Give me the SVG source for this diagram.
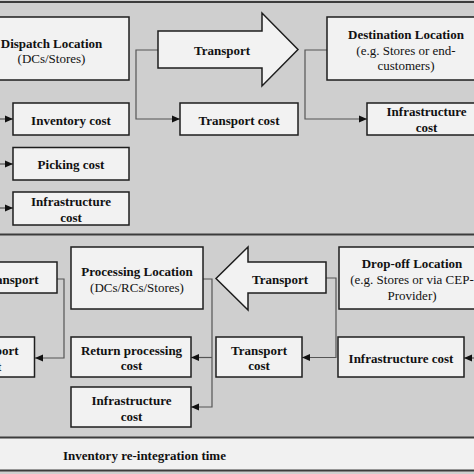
<svg xmlns="http://www.w3.org/2000/svg" width="474" height="474" viewBox="0 0 474 474">
<style>
.box{fill:#f2f2f2;stroke:#1e1e1e;stroke-width:1.5}
.arr{fill:#f2f2f2;stroke:#1e1e1e;stroke-width:1.5;stroke-linejoin:miter}
.sep{stroke:#3c3c3c;stroke-width:2}
.con{fill:none;stroke:#555;stroke-width:1.2}
text{font-family:"Liberation Serif","Times New Roman",serif;font-size:13px;fill:#111;text-anchor:middle}
.b{font-weight:bold}
</style>
<defs>
<marker id="ah" markerUnits="userSpaceOnUse" markerWidth="8" markerHeight="8" refX="8" refY="4" orient="auto">
<path d="M0,0.5 L8,4 L0,7.5 z" fill="#111"/>
</marker>
</defs>
<rect x="0" y="0" width="474" height="474" fill="#cfcfcf"/>
<rect x="0" y="438" width="474" height="32" fill="#f1f1f1"/>
<g id="separators">
<line class="sep" x1="0" y1="2" x2="474" y2="2"/>
<line class="sep" x1="0" y1="234.5" x2="474" y2="234.5"/>
<line class="sep" x1="0" y1="437.5" x2="474" y2="437.5"/>
<line class="sep" x1="0" y1="470.5" x2="474" y2="470.5"/>
</g>
<g id="connectors">
<path class="con" d="M-2,119 H13" marker-end="url(#ah)"/>
<path class="con" d="M-2,164 H13" marker-end="url(#ah)"/>
<path class="con" d="M-2,208 H13" marker-end="url(#ah)"/>
<path class="con" d="M158,50 H136 V119 H180" marker-end="url(#ah)"/>
<path class="con" d="M327,50 H305 V119 H367" marker-end="url(#ah)"/>
<path class="con" d="M57,279 H64 V358 H35" marker-end="url(#ah)"/>
<path class="con" d="M203,279 H212 V407 H191" marker-end="url(#ah)"/>
<path class="con" d="M212,357.5 H191" marker-end="url(#ah)"/>
<path class="con" d="M326,278 H336 V357.5 H302" marker-end="url(#ah)"/>
<path class="con" d="M476,358 H464" marker-end="url(#ah)"/>
</g>
<g id="dispatch">
<rect class="box" x="-5" y="17" width="134" height="63"/>
<text class="b" x="51.5" y="47.5">Dispatch Location</text>
<text x="51.5" y="62.5">(DCs/Stores)</text>
</g>
<g id="inventory-cost">
<rect class="box" x="13" y="103" width="116" height="32"/>
<text class="b" x="71" y="124.5">Inventory cost</text>
</g>
<g id="picking-cost">
<rect class="box" x="13" y="147.5" width="116" height="32.5"/>
<text class="b" x="71" y="168.5">Picking cost</text>
</g>
<g id="dispatch-infrastructure-cost">
<rect class="box" x="13" y="192" width="116" height="33"/>
<text class="b" x="71" y="205.5">Infrastructure</text>
<text class="b" x="71" y="221.5">cost</text>
</g>
<g id="transport-forward">
<polygon class="arr" points="158,31 262,31 262,13 298,49.5 262,86 262,68 158,68"/>
<text class="b" x="222" y="54.5">Transport</text>
</g>
<g id="transport-cost-forward">
<rect class="box" x="180" y="103" width="118" height="32"/>
<text class="b" x="239" y="124.5">Transport cost</text>
</g>
<g id="destination">
<rect class="box" x="327" y="17" width="152" height="63"/>
<text class="b" x="406" y="38.5">Destination Location</text>
<text x="406" y="54.5">(e.g. Stores or end-</text>
<text x="406" y="69.5">customers)</text>
</g>
<g id="destination-infrastructure-cost">
<rect class="box" x="367" y="103" width="112" height="32"/>
<text class="b" x="426.5" y="115.5">Infrastructure</text>
<text class="b" x="426.5" y="131.5">cost</text>
</g>
<g id="transport-return-left">
<rect class="arr" x="-40" y="262" width="97" height="31"/>
<text class="b" x="10.5" y="283.5">Transport</text>
</g>
<g id="transport-cost-return-left">
<rect class="box" x="-40" y="337" width="74.5" height="40"/>
<text class="b" x="-9.5" y="354.5">Transport</text>
<text class="b" x="-9.5" y="370.5">cost</text>
</g>
<g id="processing">
<rect class="box" x="71" y="247" width="132" height="62"/>
<text class="b" x="137" y="275.5">Processing Location</text>
<text x="137" y="291.5">(DCs/RCs/Stores)</text>
</g>
<g id="return-processing-cost">
<rect class="box" x="71" y="337" width="120" height="40"/>
<text class="b" x="131.5" y="354.5">Return processing</text>
<text class="b" x="131.5" y="370">cost</text>
</g>
<g id="processing-infrastructure-cost">
<rect class="box" x="71" y="387" width="120" height="40"/>
<text class="b" x="131.5" y="404.5">Infrastructure</text>
<text class="b" x="131.5" y="420.5">cost</text>
</g>
<g id="transport-return">
<polygon class="arr" points="326,262 248,262 248,247 216,278.5 248,310 248,293 326,293"/>
<text class="b" x="280" y="283.5">Transport</text>
</g>
<g id="transport-cost-return">
<rect class="box" x="216" y="337" width="86" height="40"/>
<text class="b" x="259" y="354.5">Transport</text>
<text class="b" x="259" y="370">cost</text>
</g>
<g id="dropoff">
<rect class="box" x="339" y="247" width="140" height="62"/>
<text class="b" x="412" y="267.5">Drop-off Location</text>
<text x="412" y="283.5">(e.g. Stores or via CEP-</text>
<text x="412" y="299.5">Provider)</text>
</g>
<g id="dropoff-infrastructure-cost">
<rect class="box" x="338" y="337" width="126" height="40"/>
<text class="b" x="401" y="362.5">Infrastructure cost</text>
</g>
<g id="reintegration">
<text class="b" x="63" y="459.5" style="text-anchor:start">Inventory re-integration time</text>
</g>
</svg>
